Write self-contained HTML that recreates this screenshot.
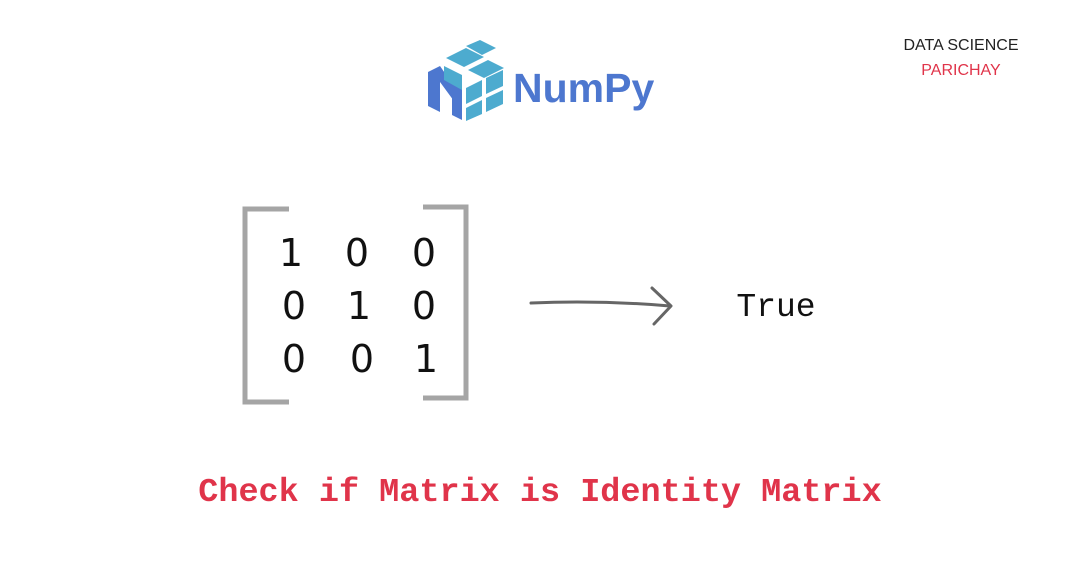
<!DOCTYPE html>
<html><head><style>
body{margin:0;width:1080px;height:567px;background:#fff;position:relative;overflow:hidden;font-family:"Liberation Sans",sans-serif}
.a{position:absolute;white-space:nowrap}
</style></head><body>
<svg class="a" style="left:0;top:0" width="1080" height="567">
  <g>
    <polygon points="428,72 440,66 440,112 428,106" fill="#4d77cf"/>
    <polygon points="440,66 462,98 462,112 440,82" fill="#4d77cf"/>
    <polygon points="452,84 462,88 462,120 452,115" fill="#4d77cf"/>
    <polygon points="446,58 466,48 484,57 464,67" fill="#4dabcf"/>
    <polygon points="468,70 488,60 504,68 484,78" fill="#4dabcf"/>
    <polygon points="466,46 480,40 496,48 482,55" fill="#4dabcf"/>
    <polygon points="444,66 462,75 462,90 444,80" fill="#4dabcf"/>
    <polygon points="466,88 482,80 482,96 466,104" fill="#4dabcf"/>
    <polygon points="486,78 503,70 503,86 486,94" fill="#4dabcf"/>
    <polygon points="466,108 482,100 482,114 466,121" fill="#4dabcf"/>
    <polygon points="486,98 503,90 503,104 486,112" fill="#4dabcf"/>
  </g>
  <polyline points="289,209 245,209 245,402 289,402" fill="none" stroke="#a5a5a5" stroke-width="5"/>
  <polyline points="423,207 466,207 466,398 423,398" fill="none" stroke="#a5a5a5" stroke-width="5"/>
  <path d="M531,303 Q600,300 670,306" fill="none" stroke="#666" stroke-width="3" stroke-linecap="round"/>
  <path d="M652,288 L671,306 L654,324" fill="none" stroke="#666" stroke-width="3" stroke-linecap="round" stroke-linejoin="round"/>
  <g font-family="DejaVu Sans, sans-serif" font-size="38" fill="#111" text-anchor="middle">
    <text x="291" y="266">1</text><text x="357" y="266">0</text><text x="424" y="266">0</text>
    <text x="294" y="319">0</text><text x="359" y="319">1</text><text x="424" y="319">0</text>
    <text x="294" y="372">0</text><text x="362" y="372">0</text><text x="426" y="372">1</text>
  </g>
  <text x="513" y="102" font-family="Liberation Sans,sans-serif" font-weight="bold" font-size="41" fill="#4d77cf">NumPy</text>
  <text x="776" y="316" text-anchor="middle" font-family="Liberation Mono,monospace" font-size="33" fill="#111">True</text>
  <text x="540" y="501" text-anchor="middle" font-family="Liberation Mono,monospace" font-weight="bold" font-size="33.5" fill="#e0344a">Check if Matrix is Identity Matrix</text>
  <text x="961" y="50" text-anchor="middle" font-family="Liberation Sans,sans-serif" font-size="16" fill="#222">DATA SCIENCE</text>
  <text x="961" y="75" text-anchor="middle" font-family="Liberation Sans,sans-serif" font-size="16" fill="#e0344a">PARICHAY</text>
</svg>
</body></html>
